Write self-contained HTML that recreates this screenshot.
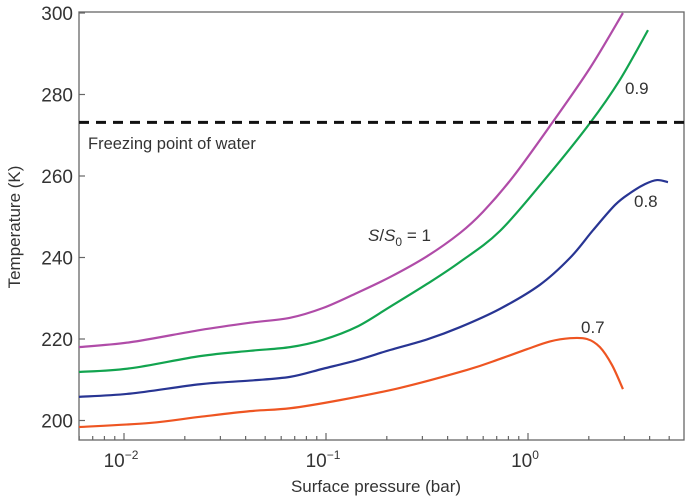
<!DOCTYPE html>
<html><head><meta charset="utf-8"><style>
body{margin:0;background:#fff;}
svg{display:block;font-family:"Liberation Sans",sans-serif;}
</style></head><body>
<svg id="chart" width="685" height="498" viewBox="0 0 685 498" xmlns="http://www.w3.org/2000/svg">
<rect x="79" y="12" width="605" height="428" fill="none" stroke="#666" stroke-width="1.3"/>
<g id="ticks"></g>
<g id="series"></g>
<line id="freeze" x1="79" x2="684" stroke="#111" stroke-width="3" stroke-dasharray="10,7"/>
<text x="88" y="149" font-size="16.5" fill="#333">Freezing point of water</text>
<text x="368" y="241" font-size="17" fill="#333"><tspan font-style="italic">S</tspan>/<tspan font-style="italic">S</tspan><tspan font-size="12" dy="5">0</tspan><tspan dy="-5"> = 1</tspan></text>
<text x="625" y="94" font-size="17" fill="#333">0.9</text>
<text x="634" y="207" font-size="17" fill="#333">0.8</text>
<text x="581" y="333" font-size="17" fill="#333">0.7</text>
<text transform="translate(20,227) rotate(-90)" text-anchor="middle" font-size="17" fill="#333">Temperature (K)</text>
<text x="376" y="492" text-anchor="middle" font-size="17" fill="#333">Surface pressure (bar)</text>
</svg>
<script>
const yTicks=[200,220,240,260,280,300];
const xDecades=[-2,-1,0];
const freezeT=273.15;
const logP1=[-2.223,-1.970,-1.624,-1.376,-1.178,-1.015,-0.847,-0.683,-0.500,-0.337,-0.223,-0.074,0.119,0.307,0.470];
const T1=[218.0,219.2,222.2,224.0,225.2,227.6,231.3,235.2,240.3,246.0,251.2,259.8,273.0,286.5,300.0];
const logP09=[-2.223,-1.970,-1.624,-1.376,-1.178,-1.015,-0.847,-0.683,-0.500,-0.337,-0.139,0.094,0.307,0.455,0.594];
const T09=[211.9,212.8,215.8,217.1,218.0,219.8,223.0,227.9,233.5,238.9,246.5,259.8,273.0,283.6,295.8];
const logP08=[-2.223,-1.970,-1.624,-1.376,-1.178,-1.015,-0.847,-0.683,-0.500,-0.337,-0.139,0.059,0.208,0.322,0.431,0.505,0.579,0.639,0.693];
const T08=[205.8,206.6,208.9,209.8,210.7,212.7,214.8,217.3,219.9,222.9,227.4,233.3,239.9,246.7,252.9,255.8,258.0,259.0,258.5];
const logP07=[-2.223,-1.871,-1.624,-1.376,-1.178,-0.931,-0.634,-0.302,-0.139,-0.005,0.109,0.208,0.292,0.356,0.416,0.470];
const T07=[198.4,199.4,200.9,202.3,203.0,205.0,208.0,212.4,215.1,217.5,219.4,220.2,220.0,218.0,213.6,207.7];
const seriesNames=['s1','s09','s08','s07'];
const seriesColors=['#b04ca8','#12a44f','#283593','#ee5522'];

const NS='http://www.w3.org/2000/svg';
const L=79,R=684,Tp=12,B=440;
const xs=lp=>124+(lp+2)*202;
const ys=t=>13+(300-t)/20*81.5;
function mk(tag,attrs,parent){const e=document.createElementNS(NS,tag);for(const k in attrs)e.setAttribute(k,attrs[k]);parent.appendChild(e);return e;}
const tg=document.getElementById('ticks');
yTicks.forEach(t=>{
  const y=ys(t);
  const ln=mk('line',{x1:L,x2:L+6,y1:y,y2:y,stroke:'#666','stroke-width':1.2},tg);
  
  
  const tx=mk('text',{x:L-6,y:y+7,'text-anchor':'end','font-size':19,fill:'#333'},tg);
  tx.textContent=t;
  
  
});
for(let d=-3;d<=0;d++){for(let m=1;m<10;m++){
  const x=xs(d+Math.log10(m));
  if(x<L||x>R)continue;
  const major=m===1;
  const ln=mk('line',{x1:x,x2:x,y1:B,y2:B-(major?7:4),stroke:'#666','stroke-width':1.2},tg);
  
  
}}
xDecades.forEach(d=>{
  const x=xs(d);
  const tx=mk('text',{x:x-3,y:467,'text-anchor':'middle','font-size':19,fill:'#333'},tg);
  tx.innerHTML='10<tspan font-size="12" dy="-8">'+(d<0?'\u2212'+(-d):d)+'</tspan>';
  
  
});
const fr=document.getElementById('freeze');
fr.setAttribute('y1',ys(freezeT));fr.setAttribute('y2',ys(freezeT));
function pathFor(lp,t){
  const p=lp.map((v,i)=>[xs(v),ys(t[i])]);
  let d='M'+p[0][0]+','+p[0][1];
  for(let i=0;i<p.length-1;i++){
    const p0=p[i-1]||p[i],p1=p[i],p2=p[i+1],p3=p[i+2]||p2;
    const c1=[p1[0]+(p2[0]-p0[0])/6,p1[1]+(p2[1]-p0[1])/6];
    const c2=[p2[0]-(p3[0]-p1[0])/6,p2[1]-(p3[1]-p1[1])/6];
    d+=' C'+c1[0]+','+c1[1]+' '+c2[0]+','+c2[1]+' '+p2[0]+','+p2[1];
  }
  return d;
}
const sg=document.getElementById('series');
const data=[[logP1,T1],[logP09,T09],[logP08,T08],[logP07,T07]];
data.forEach((s,i)=>{
  const pth=mk('path',{d:pathFor(s[0],s[1]),fill:'none',stroke:seriesColors[i],'stroke-width':2.2},sg);
  
  
});
</script>
</body></html>
